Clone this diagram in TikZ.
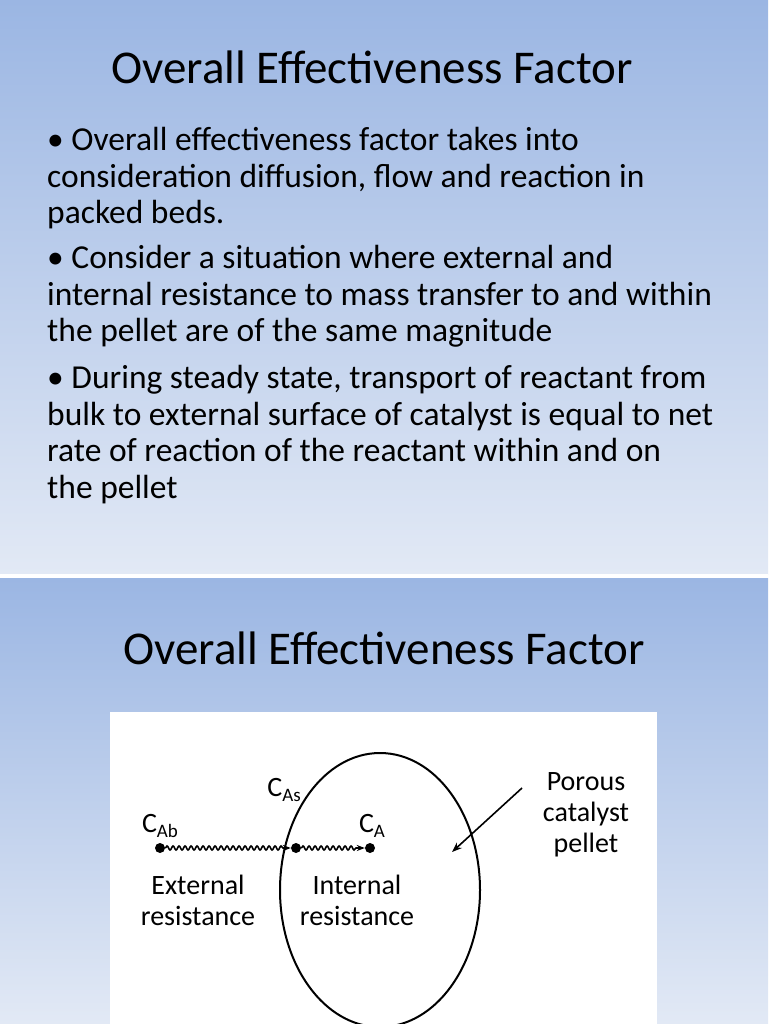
\documentclass[tikz,border=0pt]{standalone}
\usepackage{fontspec}
\setmainfont{Carlito}
\usetikzlibrary{decorations.pathmorphing,arrows.meta}
\definecolor{topb}{HTML}{9BB6E3}
\definecolor{botb}{HTML}{E2E9F5}
\tikzset{body/.style={anchor=north west,font=\fontsize{33.5}{36.7}\selectfont,align=left,inner sep=0pt},
 lab/.style={font=\fontsize{28}{31}\selectfont,inner sep=1pt},
 dot/.style={circle,fill=black,inner sep=0pt,minimum size=10pt}}
\newcommand{\sbs}[1]{\raisebox{-5pt}{\fontsize{19}{19}\selectfont #1}}
\begin{document}
\begin{tikzpicture}[x=1pt,y=-1pt]
\useasboundingbox (0,0) rectangle (768,1024);
\shade[top color=topb,bottom color=botb] (0,0) rectangle (768,574);
\fill[white] (0,574) rectangle (768,578);
\shade[top color=topb,bottom color=botb] (0,578) rectangle (768,1024);
\node[font=\fontsize{47}{50}\selectfont] (t1) at (372,67) {Overall Effectiveness Factor};
\node[body] (b1) at (47,127) {• Overall effectiveness factor takes into\\consideration diffusion, flow and reaction in\\packed beds.};
\node[body] (b2) at (47,245) {• Consider a situation where external and\\internal resistance to mass transfer to and within\\the pellet are of the same magnitude};
\node[body] (b3) at (47,365) {• During steady state, transport of reactant from\\bulk to external surface of catalyst is equal to net\\rate of reaction of the reactant within and on\\the pellet};
\node[font=\fontsize{47}{50}\selectfont] (t2) at (384,648) {Overall Effectiveness Factor};
\fill[white] (110,712) rectangle (657,1024);
\begin{scope}
\clip (110,712) rectangle (657,1024);
\draw[line width=2pt] (380,890) ellipse [x radius=100, y radius=137];
\end{scope}
\node[dot] (ab) at (160,848) {};
\node[dot] (as) at (296,848) {};
\node[dot] (a) at (370,848) {};
\draw[line width=1.6pt,decorate,decoration={snake,amplitude=2pt,segment length=6pt,post length=6pt},-{Stealth[length=8pt]}] (ab) -- (as);
\draw[line width=1.6pt,decorate,decoration={snake,amplitude=2pt,segment length=6pt,post length=6pt},-{Stealth[length=8pt]}] (as) -- (a);
\node[lab] (lab1) at (160,826) {C\sbs{Ab}};
\node[lab] (lab2) at (284,790) {C\sbs{As}};
\node[lab] (lab3) at (372,826) {C\sbs{A}};
\node[lab,align=center] (ext) at (198,900) {External\\resistance};
\node[lab,align=center] (int) at (357,900) {Internal\\resistance};
\node[lab,align=center] (por) at (586,815) {Porous\\catalyst\\pellet};
\coordinate (pt) at (452,852);
\draw[line width=1.6pt,-{Stealth[length=10pt]}] (522,788) -- (pt);
\end{tikzpicture}
\end{document}
